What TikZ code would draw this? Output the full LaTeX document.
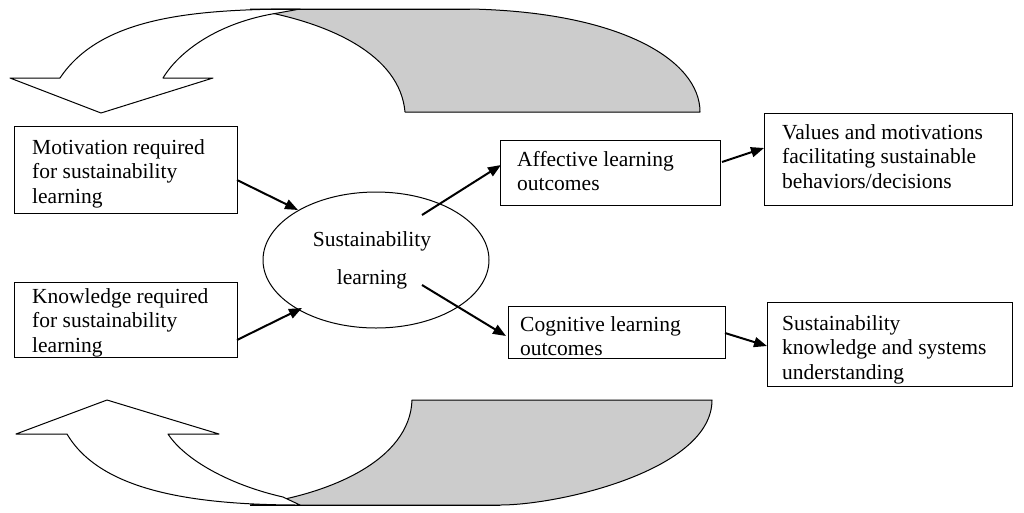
\documentclass[tikz,border=0pt]{standalone}
\usepackage{fontspec}
\setmainfont{Liberation Serif}
\usetikzlibrary{arrows.meta}
\begin{document}
\begin{tikzpicture}[x=1pt,y=-1pt,
 tx/.style={anchor=north west,align=left,font=\fontsize{21.5}{24.5}\selectfont,inner sep=0pt},
 ar/.style={-{Triangle[length=13pt,width=10pt]},line width=2pt},
 band/.style={draw,line width=1pt,line join=round}]
\useasboundingbox (0,0) rectangle (1024,512);
% top curved arrow
\path[band,fill=black!20] (250,9) -- (470,9) .. controls (620,12) and (700,60) .. (700,112) -- (405,112) .. controls (400,55) and (330,22) .. (250,9);
\path[band,fill=white] (10,78) -- (60,78) .. controls (100,18) and (190,9) .. (300,9) -- (278,13) .. controls (220,22) and (180,50) .. (163,78) -- (213,78) -- (101,113) -- cycle;
\draw[line width=1pt] (250,9) -- (470,9);
% bottom curved arrow
\path[band,fill=black!20] (250,505) -- (500,505) .. controls (560,505) and (712,470) .. (712,400) -- (412,400) .. controls (410,460) and (330,495) .. (250,505);
\path[band,fill=white] (16,434) -- (67,434) .. controls (100,490) and (190,505) .. (300,505) -- (283,497) .. controls (230,485) and (185,460) .. (168,434) -- (219,434) -- (107,400) -- cycle;
\draw[line width=1pt] (250,505) -- (500,505);
% boxes
\draw[line width=1pt] (14,126) rectangle (237,213);
\node[tx] (mot) at (32,139) {Motivation required\\for sustainability\\learning};
\draw[line width=1pt] (14,282) rectangle (237,357);
\node[tx] (kn) at (32,288) {Knowledge required\\for sustainability\\learning};
\draw[line width=1pt] (376,260) ellipse (113 and 68);
\node[font=\fontsize{21.5}{38}\selectfont,align=center] (sl) at (372,260) {Sustainability\\learning};
\draw[line width=1pt] (500,140) rectangle (720,205);
\node[tx] (aff) at (517,151) {Affective learning\\outcomes};
\draw[line width=1pt] (764,113) rectangle (1012,205);
\node[tx] (val) at (782,124) {Values and motivations\\facilitating sustainable\\behaviors/decisions};
\draw[line width=1pt] (508,306) rectangle (725,358);
\node[tx] (cog) at (520,316) {Cognitive learning\\outcomes};
\begin{scope}
\clip (760,300) rectangle (1020,386);
\node[tx] (sk) at (782,315) {Sustainability\\knowledge and systems\\understanding};
\end{scope}
\draw[line width=1pt] (767,302) rectangle (1012,386);
% arrows
\coordinate (a1) at (237,180); \coordinate (b1) at (298,210);
\coordinate (a2) at (237,340); \coordinate (b2) at (302,308);
\coordinate (a3) at (422,215); \coordinate (b3) at (501,165);
\coordinate (a4) at (422,285); \coordinate (b4) at (506,336);
\coordinate (a5) at (722,162); \coordinate (b5) at (764,148);
\coordinate (a6) at (725,333); \coordinate (b6) at (767,346);
\foreach \i in {1,...,6} \draw[ar] (a\i) -- (b\i);
\end{tikzpicture}
\end{document}
